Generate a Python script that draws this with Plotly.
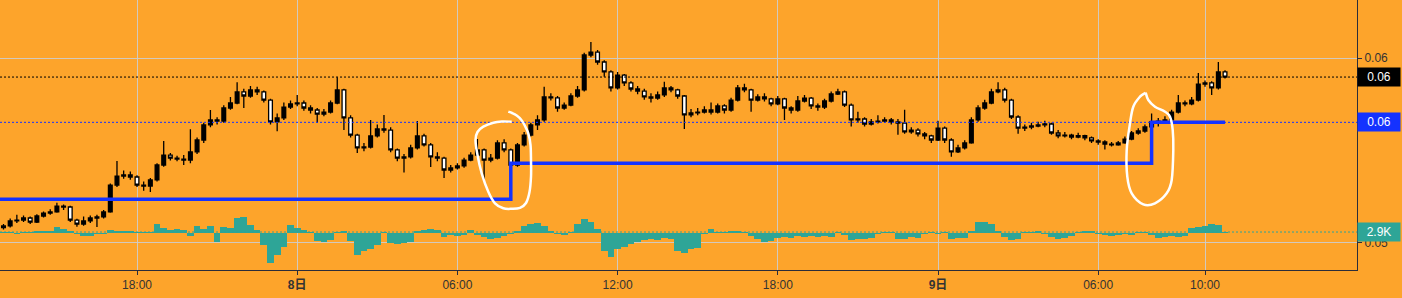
import plotly.graph_objects as go
import pandas as pd

# ---------------- data ----------------
start_time = "2024-01-07 13:00"
candle_freq = "15min"
first_open = 0.05080

closes = [
    0.05089, 0.05116, 0.05121, 0.05132, 0.05110, 0.05143, 0.05159, 0.05165, 0.05197, 0.05192,
    0.05121, 0.05099, 0.05116, 0.05132, 0.05138, 0.05165, 0.05311, 0.05360, 0.05366, 0.05355,
    0.05311, 0.05306, 0.05339, 0.05420, 0.05474, 0.05458, 0.05452, 0.05447, 0.05491, 0.05556,
    0.05638, 0.05665, 0.05659, 0.05730, 0.05757, 0.05817, 0.05795, 0.05828, 0.05817, 0.05773,
    0.05654, 0.05676, 0.05735, 0.05752, 0.05757, 0.05730, 0.05719, 0.05697, 0.05708, 0.05757,
    0.05828, 0.05676, 0.05583, 0.05513, 0.05518, 0.05578, 0.05616, 0.05610, 0.05502, 0.05458,
    0.05464, 0.05513, 0.05578, 0.05529, 0.05464, 0.05458, 0.05393, 0.05404, 0.05415, 0.05447,
    0.05474, 0.05502, 0.05447, 0.05458, 0.05540, 0.05502, 0.05420, 0.05529, 0.05583, 0.05638,
    0.05665, 0.05790, 0.05785, 0.05730, 0.05746, 0.05795, 0.05828, 0.06018, 0.06034, 0.05980,
    0.05926, 0.05839, 0.05909, 0.05866, 0.05833, 0.05822, 0.05790, 0.05784, 0.05801, 0.05839,
    0.05828, 0.05795, 0.05692, 0.05703, 0.05708, 0.05719, 0.05708, 0.05741, 0.05719, 0.05773,
    0.05839, 0.05828, 0.05773, 0.05790, 0.05779, 0.05752, 0.05779, 0.05730, 0.05719, 0.05768,
    0.05784, 0.05741, 0.05735, 0.05768, 0.05806, 0.05817, 0.05746, 0.05665, 0.05670, 0.05643,
    0.05654, 0.05659, 0.05665, 0.05654, 0.05648, 0.05600, 0.05610, 0.05589, 0.05578, 0.05556,
    0.05621, 0.05556, 0.05491, 0.05513, 0.05540, 0.05665, 0.05730, 0.05757, 0.05817, 0.05828,
    0.05773, 0.05681, 0.05621, 0.05626, 0.05632, 0.05638, 0.05643, 0.05594, 0.05578, 0.05583,
    0.05572, 0.05580, 0.05567, 0.05551, 0.05545, 0.05534, 0.05530, 0.05540, 0.05561, 0.05594,
    0.05605, 0.05627, 0.05654, 0.05659, 0.05665, 0.05708, 0.05757, 0.05752, 0.05773, 0.05860,
    0.05866, 0.05839, 0.05926, 0.05898,
]

highs = [
    0.05100, 0.05130, 0.05150, 0.05145, 0.05140, 0.05152, 0.05168, 0.05180, 0.05215, 0.05205,
    0.05198, 0.05128, 0.05140, 0.05145, 0.05150, 0.05175, 0.05320, 0.05442, 0.05390, 0.05385,
    0.05365, 0.05330, 0.05350, 0.05430, 0.05550, 0.05485, 0.05470, 0.05475, 0.05615, 0.05570,
    0.05650, 0.05719, 0.05680, 0.05745, 0.05790, 0.05870, 0.05835, 0.05850, 0.05845, 0.05825,
    0.05780, 0.05700, 0.05760, 0.05770, 0.05800, 0.05770, 0.05745, 0.05730, 0.05725, 0.05770,
    0.05897, 0.05835, 0.05690, 0.05590, 0.05540, 0.05665, 0.05640, 0.05692, 0.05625, 0.05510,
    0.05480, 0.05530, 0.05659, 0.05590, 0.05540, 0.05490, 0.05465, 0.05420, 0.05430, 0.05460,
    0.05490, 0.05561, 0.05510, 0.05480, 0.05555, 0.05560, 0.05510, 0.05540, 0.05600, 0.05650,
    0.05690, 0.05845, 0.05810, 0.05795, 0.05760, 0.05810, 0.05850, 0.06030, 0.06088, 0.06045,
    0.05990, 0.05935, 0.05925, 0.05915, 0.05875, 0.05850, 0.05835, 0.05810, 0.05820, 0.05873,
    0.05850, 0.05835, 0.05800, 0.05725, 0.05730, 0.05740, 0.05760, 0.05755, 0.05750, 0.05785,
    0.05855, 0.05862, 0.05835, 0.05805, 0.05810, 0.05785, 0.05795, 0.05785, 0.05740, 0.05795,
    0.05800, 0.05790, 0.05755, 0.05780, 0.05820, 0.05835, 0.05825, 0.05755, 0.05710, 0.05680,
    0.05670, 0.05690, 0.05680, 0.05675, 0.05670, 0.05720, 0.05625, 0.05620, 0.05600, 0.05585,
    0.05660, 0.05630, 0.05565, 0.05530, 0.05555, 0.05680, 0.05745, 0.05775, 0.05835, 0.05870,
    0.05840, 0.05780, 0.05690, 0.05640, 0.05650, 0.05655, 0.05660, 0.05650, 0.05610, 0.05600,
    0.05590, 0.05595, 0.05585, 0.05575, 0.05560, 0.05555, 0.05545, 0.05550, 0.05575, 0.05605,
    0.05620, 0.05640, 0.05700, 0.05675, 0.05685, 0.05720, 0.05800, 0.05770, 0.05790, 0.05920,
    0.05880, 0.05875, 0.05980, 0.05935,
]

lows = [
    0.05070, 0.05080, 0.05105, 0.05110, 0.05100, 0.05105, 0.05135, 0.05150, 0.05160, 0.05175,
    0.05110, 0.05085, 0.05090, 0.05105, 0.05083, 0.05130, 0.05160, 0.05300, 0.05345, 0.05340,
    0.05300, 0.05280, 0.05273, 0.05330, 0.05410, 0.05445, 0.05440, 0.05420, 0.05430, 0.05480,
    0.05540, 0.05625, 0.05640, 0.05650, 0.05720, 0.05750, 0.05730, 0.05785, 0.05800, 0.05760,
    0.05640, 0.05603, 0.05665, 0.05725, 0.05740, 0.05715, 0.05700, 0.05650, 0.05685, 0.05700,
    0.05750, 0.05610, 0.05570, 0.05485, 0.05495, 0.05510, 0.05570, 0.05595, 0.05490, 0.05440,
    0.05380, 0.05455, 0.05505, 0.05520, 0.05409, 0.05440, 0.05349, 0.05380, 0.05395, 0.05405,
    0.05440, 0.05465, 0.05339, 0.05435, 0.05450, 0.05490, 0.05355, 0.05410, 0.05520, 0.05575,
    0.05610, 0.05655, 0.05770, 0.05710, 0.05720, 0.05740, 0.05785, 0.05820, 0.06005, 0.05965,
    0.05900, 0.05820, 0.05830, 0.05850, 0.05820, 0.05805, 0.05775, 0.05760, 0.05775, 0.05790,
    0.05815, 0.05780, 0.05616, 0.05680, 0.05690, 0.05700, 0.05695, 0.05700, 0.05700, 0.05710,
    0.05765, 0.05815, 0.05710, 0.05765, 0.05765, 0.05740, 0.05745, 0.05665, 0.05700, 0.05710,
    0.05760, 0.05725, 0.05715, 0.05725, 0.05760, 0.05800, 0.05735, 0.05630, 0.05650, 0.05630,
    0.05635, 0.05645, 0.05650, 0.05640, 0.05585, 0.05590, 0.05590, 0.05575, 0.05560, 0.05540,
    0.05550, 0.05540, 0.05465, 0.05485, 0.05505, 0.05535, 0.05655, 0.05720, 0.05750, 0.05810,
    0.05760, 0.05670, 0.05590, 0.05605, 0.05615, 0.05625, 0.05625, 0.05585, 0.05565, 0.05570,
    0.05560, 0.05565, 0.05555, 0.05540, 0.05530, 0.05505, 0.05520, 0.05525, 0.05535, 0.05555,
    0.05585, 0.05595, 0.05620, 0.05630, 0.05650, 0.05655, 0.05700, 0.05740, 0.05745, 0.05765,
    0.05845, 0.05800, 0.05830, 0.05890,
]

# volume-delta histogram, thousands
delta_k = [
    3, 3, -3, 1.5, 3, 6, 6, 6, 18, 12,
    6, -3, -9, -9, -3, -3, 9, 6, 6, 6,
    3, 3, 3, 27, 15, 9, 12, 9, -9, 21,
    12, 21, -27, 18, 15, 45, 48, 24, 9, -36,
    -90, -66, -42, 24, 15, 9, 3, -24, -27, -21,
    3, 6, -24, -66, -54, -48, -36, 3, -30, -33,
    -30, -27, 6, 9, 12, 9, -12, -6, -9, -6,
    9, -6, -12, -18, -15, -9, -3, 6, 21, 27,
    30, 21, 6, -3, -6, 3, 27, 42, 33, 12,
    -54, -72, -48, -42, -33, -27, -21, -18, -21, -15,
    -18, -54, -60, -48, -45, -3, 12, 3, 3, 6,
    6, 3, -9, -18, -27, -24, -15, -12, -15, -9,
    -12, -9, -12, -9, -12, 1.5, -6, -21, -18, -18,
    -15, -3, 3, 1.5, -18, -18, -12, -15, -3, 3,
    -3, 1.5, -18, -15, -15, 6, 33, 33, 27, 6,
    -12, -21, -18, 3, 3, 6, -3, -12, -18, -15,
    -9, 3, 6, 6, -3, -6, -9, -6, -3, -6,
    3, 1.5, -6, -15, -12, -9, -12, -9, 15, 18,
    21, 27, 24, 2.9,
]

blue_times = ["2024-01-07 12:45", "2024-01-08 08:00", "2024-01-09 08:00", "2024-01-09 10:45"]
blue_levels = [0.05234, 0.05429, 0.05652, 0.05652]

tick_times = ["2024-01-07 18:00", "2024-01-08 00:00", "2024-01-08 06:00", "2024-01-08 12:00",
              "2024-01-08 18:00", "2024-01-09 00:00", "2024-01-09 06:00", "2024-01-09 10:00"]
tick_labels = ["18:00", "<b>8日</b>", "06:00", "12:00", "18:00", "<b>9日</b>", "06:00", "10:00"]
price_ticks = [0.05, 0.06]
price_tick_labels = ["0.05", "0.06"]
delta_label = "2.9K"

# ---------------- styling ----------------
W, H = 1402, 298
ML, MR, MT, MB = 0, 45, 0, 28
PW, PH = W - ML - MR, H - MT - MB
BG = "#FDA42B"
GRID = "rgba(205,205,205,0.9)"
AXIS = "#2b2d3a"
TEXT = "#333333"
BLUE = "#1432FF"
TEAL = "#2EA597"
FONT = "Arial, 'Liberation Sans', 'Noto Sans CJK JP', sans-serif"

times = pd.date_range(start_time, periods=len(closes), freq=candle_freq)
opens = [first_open] + closes[:-1]

fig = go.Figure()

fig.add_trace(go.Bar(
    x=times, y=delta_k, yaxis="y2",
    marker=dict(color=TEAL, line=dict(width=0)),
    width=15 * 60 * 1000, hoverinfo="skip", showlegend=False,
))

fig.add_trace(go.Scatter(
    x=blue_times, y=blue_levels, mode="lines",
    line=dict(color=BLUE, width=3.5, shape="hv"),
    hoverinfo="skip", showlegend=False,
))

fig.add_trace(go.Candlestick(
    x=times, open=opens, high=highs, low=lows, close=closes,
    increasing=dict(line=dict(color="black", width=1.3), fillcolor="black"),
    decreasing=dict(line=dict(color="black", width=1.3), fillcolor="white"),
    whiskerwidth=0, showlegend=False,
))


def to_paper(p):
    return (p[0] / PW, 1 - p[1] / PH)


def smooth_path(pts):
    P = [to_paper(p) for p in pts]
    d = f"M {P[0][0]:.5f},{P[0][1]:.5f}"
    for i in range(len(P) - 1):
        p0 = P[i - 1] if i > 0 else P[i]
        p1, p2 = P[i], P[i + 1]
        p3 = P[i + 2] if i + 2 < len(P) else P[i + 1]
        c1 = (p1[0] + (p2[0] - p0[0]) / 6, p1[1] + (p2[1] - p0[1]) / 6)
        c2 = (p2[0] - (p3[0] - p1[0]) / 6, p2[1] - (p3[1] - p1[1]) / 6)
        d += f" C {c1[0]:.5f},{c1[1]:.5f} {c2[0]:.5f},{c2[1]:.5f} {p2[0]:.5f},{p2[1]:.5f}"
    return d


# hand-drawn marks (pixel positions within the plot area)
sketch1 = [(508.3, 111.7), (512, 113), (516.7, 115.5), (521, 119.5), (524.5, 125), (528.3, 133.3),
           (530.5, 145), (531, 160), (531, 176.7), (529.5, 192), (526, 203), (520, 207.8),
           (512, 208.8), (503.3, 208.3), (495, 203.3), (488.3, 191.7), (481.7, 173.3),
           (477.5, 155), (475.5, 140), (477.5, 132), (483.3, 126.7), (493.3, 122.7),
           (502, 121.5), (511.7, 121.7)]
sketch2 = [(1145.7, 92.7), (1140, 96.7), (1133.3, 106.7), (1130, 123.3), (1126.7, 150),
           (1127.3, 176.7), (1131.7, 193.3), (1143.3, 204.3), (1155, 203.3), (1166.7, 193.3),
           (1171.7, 180), (1173.3, 150), (1172.7, 130), (1170, 116.7), (1165, 111.7),
           (1155, 106.7), (1148.3, 100), (1145.7, 92.7)]

shapes = [
    dict(type="line", xref="paper", x0=0, x1=1, yref="y", y0=closes[-1], y1=closes[-1],
         line=dict(color="black", width=1, dash="2px,2px"), layer="above"),
    dict(type="line", xref="paper", x0=0, x1=1, yref="y", y0=blue_levels[-1], y1=blue_levels[-1],
         line=dict(color=BLUE, width=1, dash="2px,2px"), layer="above"),
    dict(type="line", xref="paper", x0=0, x1=1, yref="y2", y0=delta_k[-1], y1=delta_k[-1],
         line=dict(color=TEAL, width=1, dash="2px,2px"), layer="above"),
    dict(type="path", xref="paper", yref="paper", path=smooth_path(sketch1),
         line=dict(color="white", width=2.5), layer="above"),
    dict(type="path", xref="paper", yref="paper", path=smooth_path(sketch2),
         line=dict(color="white", width=2.5), layer="above"),
]

label_common = dict(xref="paper", x=1.0, xanchor="left", yanchor="middle", showarrow=False,
                    width=42, height=18, align="center", borderpad=0,
                    font=dict(family=FONT, size=12, color="white"))
annotations = [
    dict(yref="y", y=closes[-1], text="0.06", bgcolor="black", **label_common),
    dict(yref="y", y=blue_levels[-1], text="0.06", bgcolor=BLUE, **label_common),
    dict(yref="y2", y=delta_k[-1], text=delta_label, bgcolor=TEAL, **label_common),
]

fig.update_layout(
    width=W, height=H,
    margin=dict(l=ML, r=MR, t=MT, b=MB, pad=0),
    paper_bgcolor=BG, plot_bgcolor=BG,
    font=dict(family=FONT, size=12, color=TEXT),
    showlegend=False,
    boxgap=0.2,
    bargap=0,
    shapes=shapes,
    annotations=annotations,
    xaxis=dict(
        type="date",
        range=["2024-01-07 12:52:08", "2024-01-09 15:41:35"],
        tickvals=tick_times, ticktext=tick_labels,
        showgrid=True, gridcolor=GRID, gridwidth=1,
        ticks="outside", ticklen=4, tickcolor=AXIS,
        showline=True, linecolor=AXIS, linewidth=1,
        rangeslider=dict(visible=False),
        tickfont=dict(family=FONT, size=12, color=TEXT),
        zeroline=False, fixedrange=True,
    ),
    yaxis=dict(
        side="right",
        range=[0.048495, 0.063168],
        tickvals=price_ticks, ticktext=price_tick_labels,
        showgrid=True, gridcolor=GRID, gridwidth=1,
        ticks="outside", ticklen=4, tickcolor=AXIS,
        showline=True, linecolor=AXIS, linewidth=1,
        tickfont=dict(family=FONT, size=12, color=TEXT),
        zeroline=False, fixedrange=True,
    ),
    yaxis2=dict(
        overlaying="y", side="right", range=[-111, 699],
        visible=False, showgrid=False, zeroline=False, fixedrange=True,
    ),
)

fig.write_html("out.html")
